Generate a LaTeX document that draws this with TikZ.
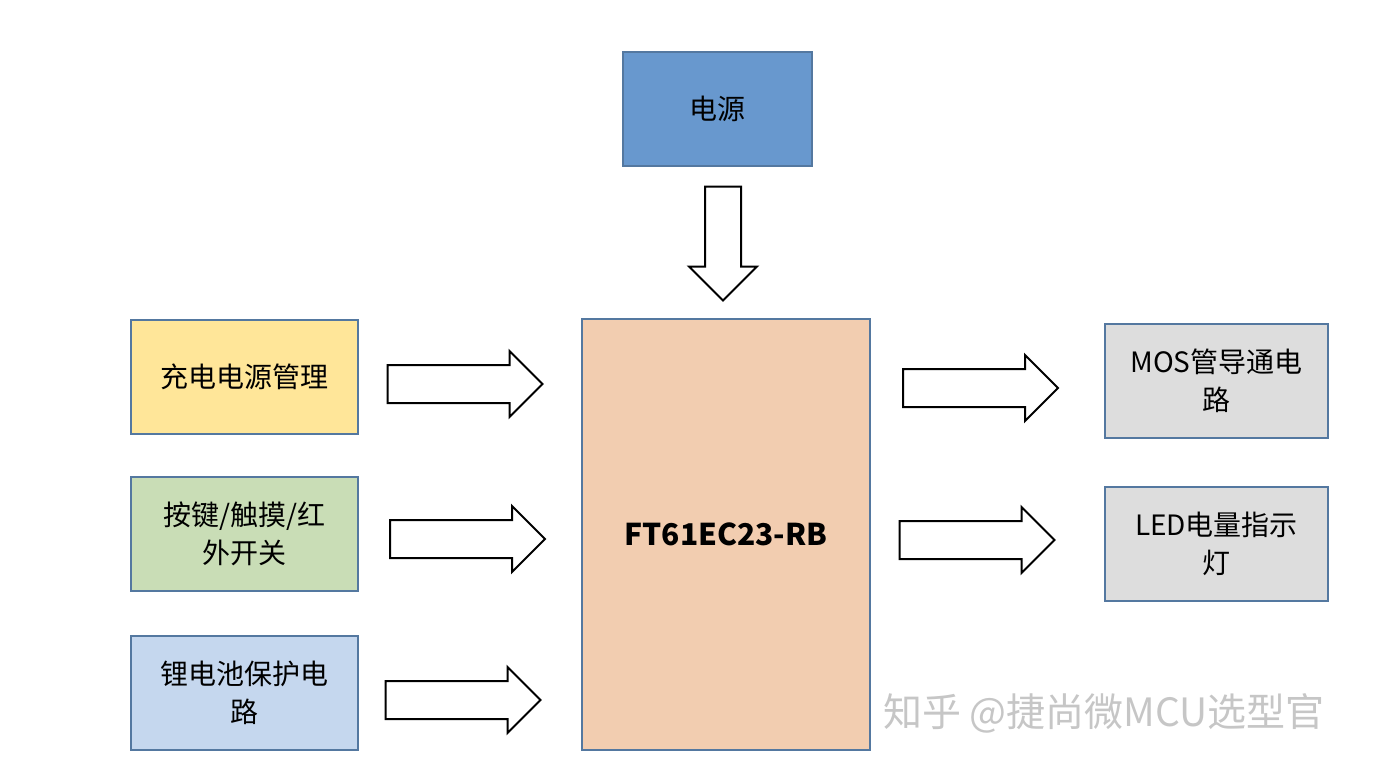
\documentclass[tikz,border=0pt]{standalone}
\usepackage{fontspec}
\setmainfont{Noto Sans CJK SC}
\usetikzlibrary{shapes.arrows,positioning}
\definecolor{edgeblue}{RGB}{84,120,160}
\definecolor{powerblue}{RGB}{104,152,206}
\definecolor{mcupeach}{RGB}{242,205,176}
\definecolor{chgyellow}{RGB}{255,230,153}
\definecolor{keygreen}{RGB}{201,221,182}
\definecolor{batblue}{RGB}{197,215,238}
\definecolor{outgray}{RGB}{221,221,221}
\tikzset{
  block/.style={draw=edgeblue, line width=0.8pt, minimum width=113.5pt, minimum height=57pt,
    align=center, font=\fontsize{14}{19}\selectfont},
  hollow/.style={single arrow, draw=black, line width=1pt, fill=white, inner sep=9pt,
    single arrow head extend=7pt, minimum height=77.5pt},
}
\begin{document}
\begin{tikzpicture}[x=0.5pt,y=-0.5pt]
\useasboundingbox (0,0) rectangle (1380,772);

% boxes
\node[block, fill=powerblue, minimum width=94.5pt] (power) at (717.5,109) {电源};
\node[block, fill=mcupeach, minimum width=144pt, minimum height=215.5pt,
  font=\fontsize{15}{19}\selectfont\bfseries] (mcu) at (726,534.5) {FT61EC23-RB};
\node[block, fill=chgyellow] (charge) at (244.5,377) {充电电源管理};
\node[block, fill=keygreen] (keys) at (244.5,534) {按键/触摸/红\\外开关};
\node[block, fill=batblue] (battery) at (244.5,693) {锂电池保护电\\路};
\node[block, fill=outgray, minimum width=111.5pt] (mos) at (1216.5,381) {MOS管导通电\\路};
\node[block, fill=outgray, minimum width=111.5pt] (led) at (1216.5,544) {LED电量指示\\灯};

% arrows
\node[hollow, rotate=-90, inner sep=8.5pt, single arrow head extend=8pt, minimum height=57pt] (a0) at (723,234.5) {};
\node[hollow] (a1) at (455.5,384) {};
\node[hollow] (a2) at (458,539) {};
\node[hollow] (a3) at (453.5,700) {};
\node[hollow] (a4) at (971,388) {};
\node[hollow] (a5) at (967.5,540) {};

% watermark
\node[text=gray!45, font=\fontsize{19.5}{22}\selectfont, anchor=west] (mark) at (876,713) {知乎 @捷尚微MCU选型官};
\end{tikzpicture}
\end{document}
